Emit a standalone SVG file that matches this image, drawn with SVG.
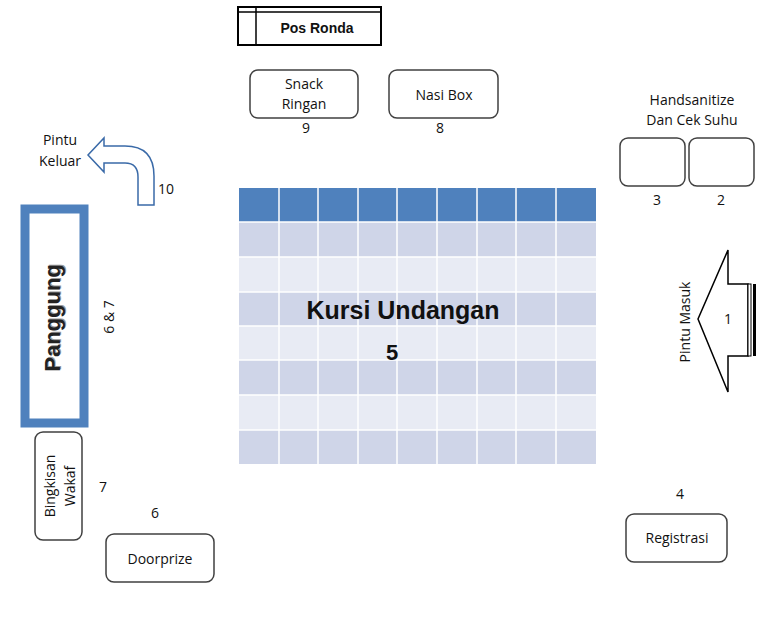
<svg xmlns="http://www.w3.org/2000/svg" width="768" height="639" viewBox="0 0 768 639">
<style>
text{font-family:"Open Sans","Liberation Sans",sans-serif;font-size:14px;fill:#111}
.box{fill:#fff;stroke:#404040;stroke-width:1.5}
.dk{fill:#cfd5e8}.lt{fill:#e8ebf4}
.grid line{stroke:#fff;stroke-width:1.5}
</style>
<rect width="768" height="639" fill="#fff"/>
<g id="pos-ronda"><rect x="238" y="7" width="143" height="38" fill="#fff" stroke="#000" stroke-width="2"/><line x1="238" y1="12" x2="381" y2="12" stroke="#000" stroke-width="1.5"/><line x1="256" y1="7" x2="256" y2="45" stroke="#000" stroke-width="1.5"/><text x="317" y="33" text-anchor="middle" style="font-weight:bold;font-family:'Liberation Sans',sans-serif">Pos Ronda</text></g>
<g id="snack"><rect class="box" x="250" y="70" width="108" height="48" rx="8"/><text x="304" y="89" text-anchor="middle">Snack</text><text x="304" y="109" text-anchor="middle">Ringan</text><text x="306" y="133" text-anchor="middle">9</text></g>
<g id="nasi"><rect class="box" x="389" y="70" width="109" height="48" rx="8"/><text x="444" y="100" text-anchor="middle">Nasi Box</text><text x="440" y="133" text-anchor="middle">8</text></g>
<g id="hand"><text x="692" y="105" text-anchor="middle">Handsanitize</text><text x="692" y="125" text-anchor="middle">Dan Cek Suhu</text><rect class="box" x="620" y="138" width="65" height="48" rx="8"/><rect class="box" x="689" y="138" width="65" height="48" rx="8"/><text x="657" y="205" text-anchor="middle">3</text><text x="721" y="205" text-anchor="middle">2</text></g>
<g id="exit"><path d="M138,205 L154,205 L154,176 Q154,146 125,146 L104,146 L104,138 L88,155 L104,172 L104,163 L125,163 Q138,163 138,177 Z" fill="#fff" stroke="#3a6aa8" stroke-width="1.5"/><text x="60" y="145" text-anchor="middle">Pintu</text><text x="60" y="166" text-anchor="middle">Keluar</text><text x="158" y="194">10</text></g>
<g id="table" class="grid">
<rect x="239" y="188" width="357" height="34" fill="#4f81bd"/>
<rect class="dk" x="239" y="222" width="357" height="35"/><rect class="lt" x="239" y="257" width="357" height="35"/><rect class="dk" x="239" y="292" width="357" height="34"/><rect class="lt" x="239" y="326" width="357" height="34"/><rect class="dk" x="239" y="360" width="357" height="35"/><rect class="lt" x="239" y="395" width="357" height="35"/><rect class="dk" x="239" y="430" width="357" height="34"/>
<line x1="279" y1="188" x2="279" y2="464"/><line x1="318" y1="188" x2="318" y2="464"/><line x1="358" y1="188" x2="358" y2="464"/><line x1="397" y1="188" x2="397" y2="464"/><line x1="437" y1="188" x2="437" y2="464"/><line x1="477" y1="188" x2="477" y2="464"/><line x1="516" y1="188" x2="516" y2="464"/><line x1="556" y1="188" x2="556" y2="464"/>
<line x1="239" y1="222" x2="596" y2="222"/><line x1="239" y1="257" x2="596" y2="257"/><line x1="239" y1="292" x2="596" y2="292"/><line x1="239" y1="326" x2="596" y2="326"/><line x1="239" y1="360" x2="596" y2="360"/><line x1="239" y1="395" x2="596" y2="395"/><line x1="239" y1="430" x2="596" y2="430"/>
<text x="403" y="319" text-anchor="middle" style="font-size:25px;font-weight:bold;font-family:'Liberation Sans',sans-serif">Kursi Undangan</text><text x="392" y="360" text-anchor="middle" style="font-size:22px;font-weight:bold;font-family:'Liberation Sans',sans-serif">5</text></g>
<g id="panggung"><rect x="25" y="209" width="59" height="214" fill="#fff" stroke="#4f81bd" stroke-width="9"/><text transform="translate(60,318) rotate(-90)" x="1" y="1" text-anchor="middle" style="font-size:22px;font-weight:bold;fill:#999;font-family:'Liberation Sans',sans-serif">Panggung</text><text transform="translate(60,318) rotate(-90)" text-anchor="middle" style="font-size:22px;font-weight:bold;fill:#222;font-family:'Liberation Sans',sans-serif">Panggung</text><text transform="translate(114,317) rotate(-90)" text-anchor="middle">6 &amp; 7</text></g>
<g id="bingkisan"><rect class="box" x="35" y="432" width="47" height="108" rx="8"/><text transform="translate(55,486) rotate(-90)" text-anchor="middle">Bingkisan</text><text transform="translate(75,486) rotate(-90)" text-anchor="middle">Wakaf</text><text x="103" y="492" text-anchor="middle">7</text></g>
<g id="doorprize"><rect class="box" x="106" y="534" width="108" height="48" rx="8"/><text x="160" y="564" text-anchor="middle">Doorprize</text><text x="155" y="518" text-anchor="middle">6</text></g>
<g id="registrasi"><rect class="box" x="626" y="514" width="101" height="48" rx="8"/><text x="677" y="543" text-anchor="middle">Registrasi</text><text x="680" y="499" text-anchor="middle">4</text></g>
<g id="masuk"><path d="M748,284 L728,284 L728,250 L698,319 L728,392 L728,356 L748,356 Z" fill="#fff" stroke="#000" stroke-width="1.5"/><rect x="748" y="284" width="3" height="72" fill="#fff" stroke="#000" stroke-width="1"/><rect x="753" y="284" width="3" height="72" fill="#000"/><text x="728" y="324" text-anchor="middle">1</text><text transform="translate(690,322) rotate(-90)" text-anchor="middle">Pintu Masuk</text></g>
</svg>
